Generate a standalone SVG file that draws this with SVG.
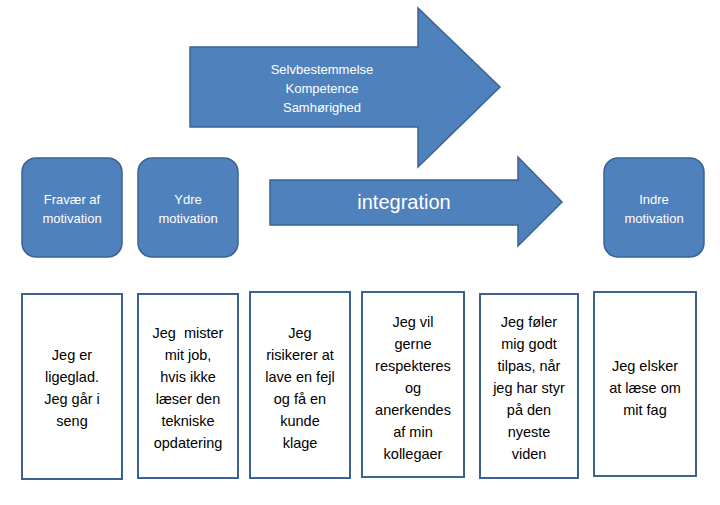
<svg xmlns="http://www.w3.org/2000/svg" width="720" height="505" viewBox="0 0 720 505">
<style>
.shape{fill:#4f81bd;stroke:#3a6393;stroke-width:1.5}
.box{fill:#fff;stroke:#3a6393;stroke-width:2}
.wt{fill:#fff;font-family:"Liberation Sans",Arial,sans-serif;font-size:13px;text-anchor:middle}
.bt{fill:#000;font-family:"Liberation Sans",Arial,sans-serif;font-size:14.5px;text-anchor:middle}
</style>
<rect width="720" height="505" fill="#fff"/>
<g id="connectors">
<g id="arrow-top">
<path class="shape" d="M190,47 H418 V8 L500,87 L418,167 V127 H190 Z"/>
<text class="wt" x="322" y="74">Selvbestemmelse</text>
<text class="wt" x="322" y="93">Kompetence</text>
<text class="wt" x="322" y="112">Samhørighed</text>
</g>
<g id="arrow-integration">
<path class="shape" d="M270,180 H518 V157 L562,202 L518,246 V225 H270 Z"/>
<text class="wt" x="404" y="209" style="font-size:20px">integration</text>
</g>
</g>
<g id="fravaer"><rect class="shape" x="22" y="158" width="100" height="99" rx="14"/>
<text class="wt" x="72" y="204">Fravær af</text><text class="wt" x="72" y="223">motivation</text></g>
<g id="ydre"><rect class="shape" x="138" y="158" width="100" height="99" rx="14"/>
<text class="wt" x="188" y="204">Ydre</text><text class="wt" x="188" y="223">motivation</text></g>
<g id="indre"><rect class="shape" x="604" y="158" width="100" height="99" rx="14"/>
<text class="wt" x="654" y="204">Indre</text><text class="wt" x="654" y="223">motivation</text></g>
<g id="b1"><rect class="box" x="22" y="294" width="100" height="185"/>
<text class="bt" x="72" y="360">Jeg er</text><text class="bt" x="72" y="382">ligeglad.</text><text class="bt" x="72" y="404">Jeg går i</text><text class="bt" x="72" y="426">seng</text></g>
<g id="b2"><rect class="box" x="138" y="294" width="100" height="184"/>
<text class="bt" x="188" y="338" xml:space="preserve">Jeg  mister</text><text class="bt" x="188" y="360">mit job,</text><text class="bt" x="188" y="382">hvis ikke</text><text class="bt" x="188" y="404">læser den</text><text class="bt" x="188" y="426">tekniske</text><text class="bt" x="188" y="448">opdatering</text></g>
<g id="b3"><rect class="box" x="250" y="292" width="100" height="186"/>
<text class="bt" x="300" y="338">Jeg</text><text class="bt" x="300" y="360">risikerer at</text><text class="bt" x="300" y="382">lave en fejl</text><text class="bt" x="300" y="404">og få en</text><text class="bt" x="300" y="426">kunde</text><text class="bt" x="300" y="448">klage</text></g>
<g id="b4"><rect class="box" x="362" y="292" width="102" height="185"/>
<text class="bt" x="413" y="327">Jeg vil</text><text class="bt" x="413" y="349">gerne</text><text class="bt" x="413" y="371">respekteres</text><text class="bt" x="413" y="393">og</text><text class="bt" x="413" y="415">anerkendes</text><text class="bt" x="413" y="437">af min</text><text class="bt" x="413" y="459">kollegaer</text></g>
<g id="b5"><rect class="box" x="480" y="294" width="98" height="184"/>
<text class="bt" x="529" y="327">Jeg føler</text><text class="bt" x="529" y="349">mig godt</text><text class="bt" x="529" y="371">tilpas, når</text><text class="bt" x="529" y="393">jeg har styr</text><text class="bt" x="529" y="415">på den</text><text class="bt" x="529" y="437">nyeste</text><text class="bt" x="529" y="459">viden</text></g>
<g id="b6"><rect class="box" x="594" y="292" width="102" height="184"/>
<text class="bt" x="645" y="371">Jeg elsker</text><text class="bt" x="645" y="393">at læse om</text><text class="bt" x="645" y="415">mit fag</text></g>
</svg>
